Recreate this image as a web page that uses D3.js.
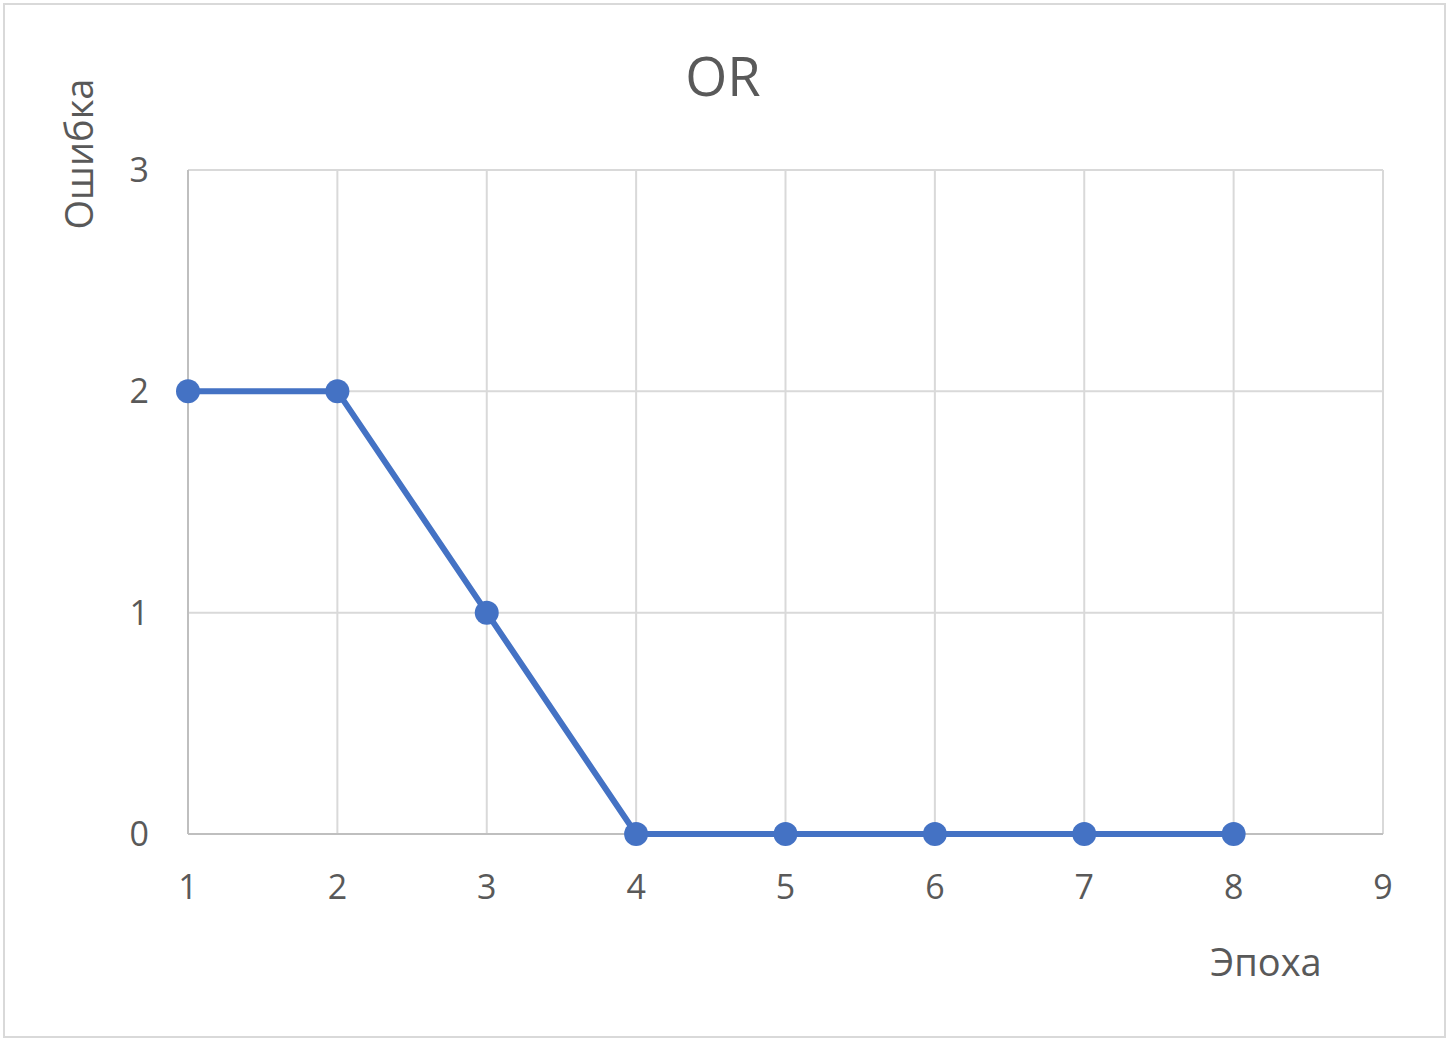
<!DOCTYPE html>
<html>
<head>
<meta charset="utf-8">
<script src="https://cdn.jsdelivr.net/npm/d3@7"></script>
<style>
  body { margin: 0; background: #fff; }
  text { font-family: "Open Sans", sans-serif; fill: #595959; }
</style>
</head>
<body>
<svg id="chart" width="1452" height="1045"></svg>
<script>
const epochs = [1, 2, 3, 4, 5, 6, 7, 8];
const errors = [2, 2, 1, 0, 0, 0, 0, 0];
const xTicks = [1, 2, 3, 4, 5, 6, 7, 8, 9];
const yTicks = [0, 1, 2, 3];

const svg = d3.select('#chart');
const margin = { left: 188, right: 1383, top: 170, bottom: 834 };

// outer frame
svg.append('rect')
    .attr('x', 4).attr('y', 4)
    .attr('width', 1441).attr('height', 1033)
    .attr('fill', '#fff')
    .attr('stroke', '#d9d9d9')
    .attr('stroke-width', 2);

const x = d3.scaleLinear().domain([1, 9]).range([margin.left, margin.right]);
const y = d3.scaleLinear().domain([0, 3]).range([margin.bottom, margin.top]);

// gridlines
svg.append('g').selectAll('line.v')
    .data(xTicks)
    .join('line')
    .attr('x1', d => x(d)).attr('x2', d => x(d))
    .attr('y1', y(3)).attr('y2', y(0))
    .attr('stroke', '#d9d9d9')
    .attr('stroke-width', 2);

svg.append('g').selectAll('line.h')
    .data(yTicks)
    .join('line')
    .attr('x1', x(1)).attr('x2', x(9))
    .attr('y1', d => y(d)).attr('y2', d => y(d))
    .attr('stroke', d => d === 0 ? '#bfbfbf' : '#d9d9d9')
    .attr('stroke-width', 2);

// left axis line
svg.append('line')
    .attr('x1', x(1)).attr('x2', x(1))
    .attr('y1', y(3)).attr('y2', y(0))
    .attr('stroke', '#bfbfbf')
    .attr('stroke-width', 2);

// tick labels
svg.append('g').selectAll('text')
    .data(yTicks)
    .join('text')
    .attr('x', 149)
    .attr('y', d => y(d))
    .attr('dy', '0.35em')
    .attr('text-anchor', 'end')
    .style('font-size', '34px')
    .text(d => d);

svg.append('g').selectAll('text')
    .data(xTicks)
    .join('text')
    .attr('x', d => x(d))
    .attr('y', 887)
    .attr('dy', '0.35em')
    .attr('text-anchor', 'middle')
    .style('font-size', '34px')
    .text(d => d);

// series line
const line = d3.line()
    .x((d, i) => x(epochs[i]))
    .y(d => y(d));

svg.append('path')
    .datum(errors)
    .attr('d', line)
    .attr('fill', 'none')
    .attr('stroke', '#4472c4')
    .attr('stroke-width', 6)
    .attr('stroke-linejoin', 'round');

svg.append('g').selectAll('circle')
    .data(errors)
    .join('circle')
    .attr('cx', (d, i) => x(epochs[i]))
    .attr('cy', d => y(d))
    .attr('r', 12)
    .attr('fill', '#4472c4');

// titles
svg.append('text')
    .attr('x', 723)
    .attr('y', 77)
    .attr('dy', '0.35em')
    .attr('text-anchor', 'middle')
    .style('font-size', '54px')
    .text('OR');

svg.append('text')
    .attr('transform', 'translate(80,154) rotate(-90)')
    .attr('dy', '0.35em')
    .attr('text-anchor', 'middle')
    .style('font-size', '38px')
    .text('Ошибка');

svg.append('text')
    .attr('x', 1266)
    .attr('y', 963)
    .attr('dy', '0.35em')
    .attr('text-anchor', 'middle')
    .style('font-size', '38px')
    .text('Эпоха');
</script>
</body>
</html>
